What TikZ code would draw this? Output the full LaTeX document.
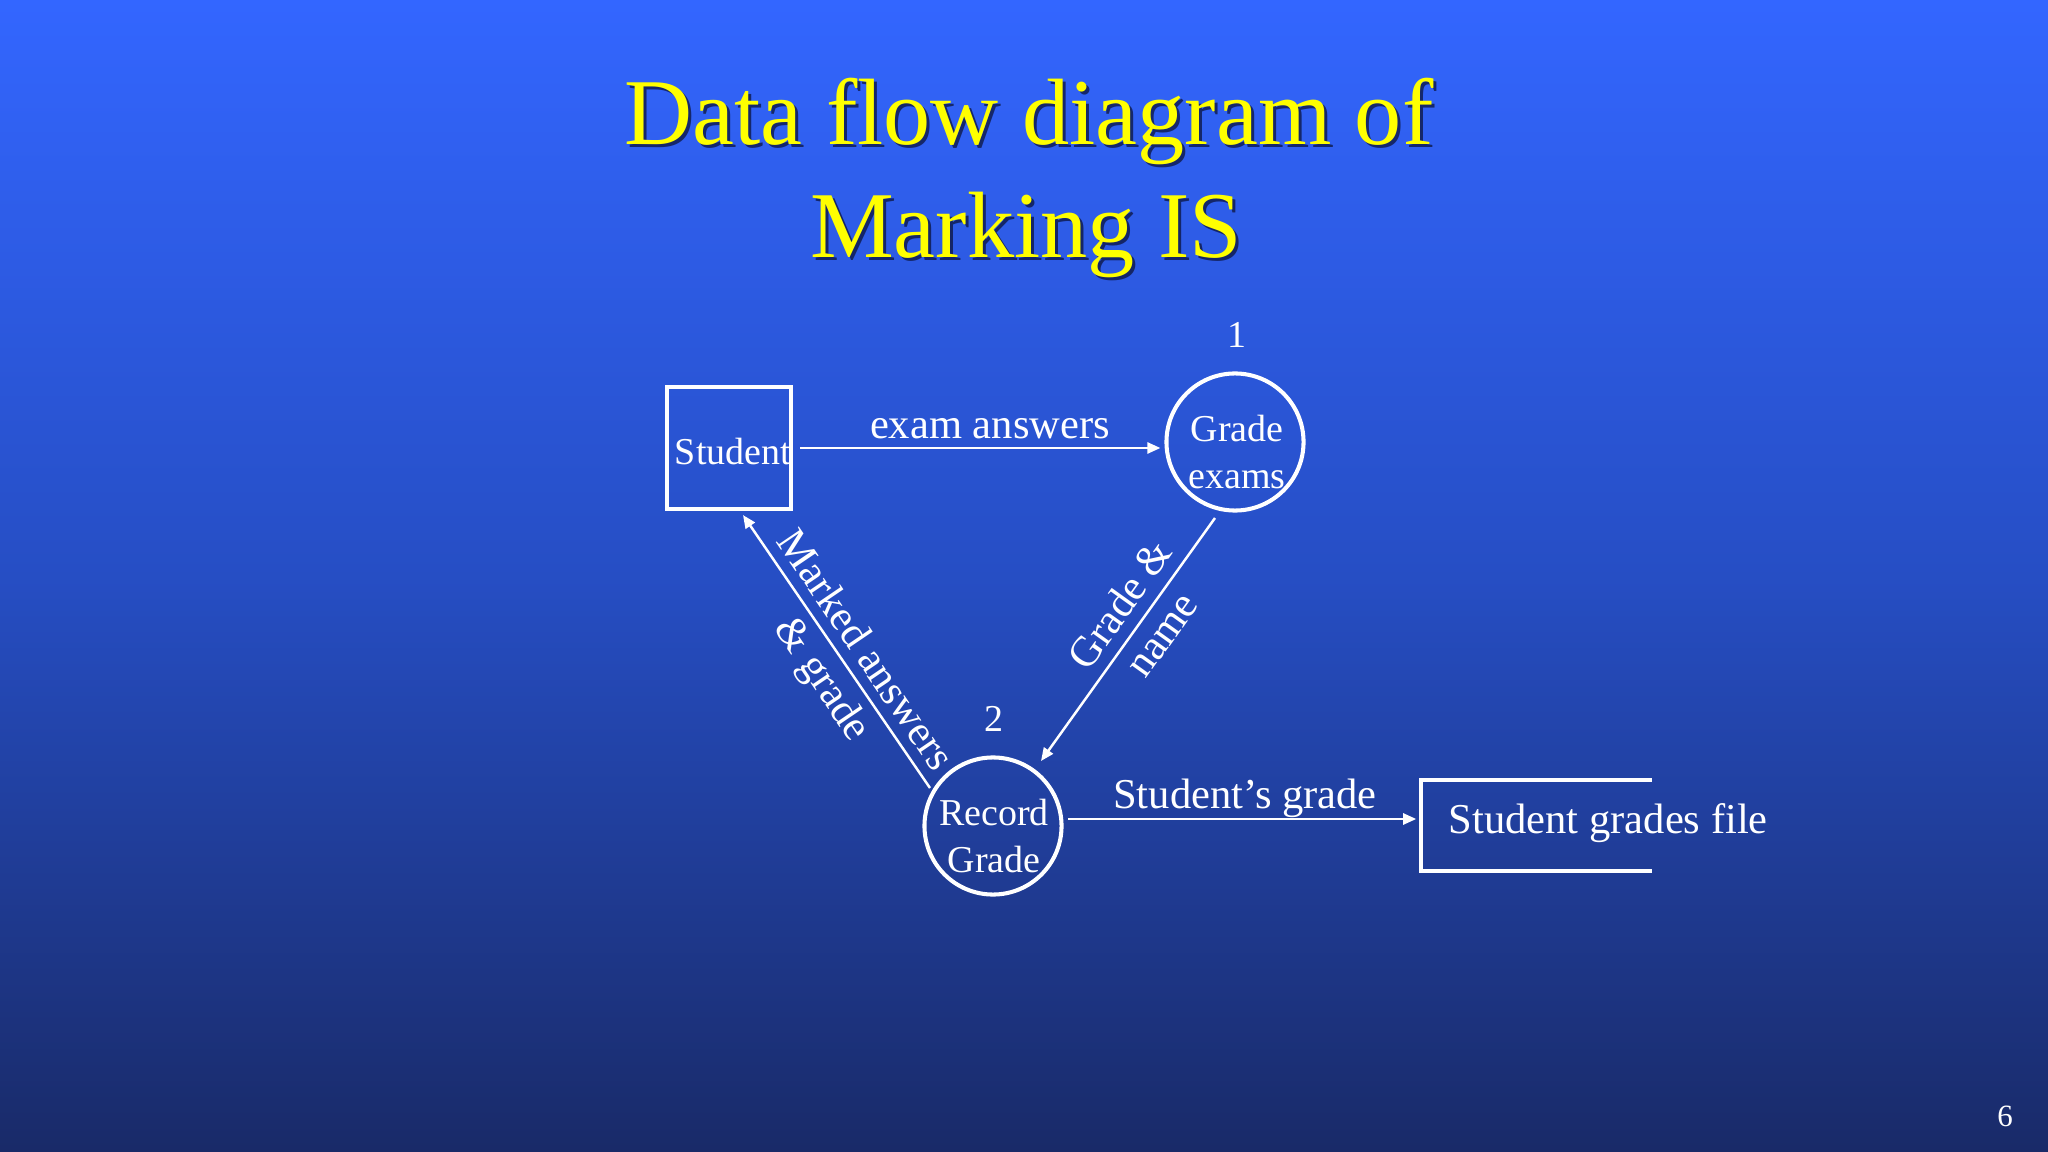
\documentclass[tikz,border=0pt]{standalone}
\usepackage{fontspec}
\setmainfont{Liberation Serif}
\usetikzlibrary{arrows.meta,calc}
\definecolor{bgtop}{RGB}{51,102,255}
\definecolor{bgmid}{RGB}{38,78,196}
\definecolor{bgbot}{RGB}{25,42,104}
\definecolor{ttl}{RGB}{255,255,0}
\definecolor{shd}{RGB}{10,15,50}
\begin{document}
\begin{tikzpicture}[x=0.01cm,y=-0.01cm,
  titlefont/.style={font=\fontsize{26.8pt}{32pt}\selectfont},
  flowfont/.style={font=\fontsize{12.1pt}{14pt}\selectfont},
  boxfont/.style={font=\fontsize{10.8pt}{13.1pt}\selectfont},
  proc/.style={circle,draw=white,line width=1.15pt,minimum size=1.37cm,inner sep=0pt},
  ent/.style={rectangle,draw=white,line width=1.15pt,minimum width=1.24cm,minimum height=1.22cm,inner sep=0pt},
  storebox/.style={rectangle,minimum width=2.29cm,minimum height=0.89cm,inner sep=0pt},
  storeline/.style={draw=white,line width=1.15pt},
  flow/.style={draw=white,line width=0.7pt,-{Triangle[length=0.13cm,width=0.11cm]}},
  txt/.style={text=white,inner sep=0pt},
]
\useasboundingbox (0,0) rectangle (2048,1152);
\shade[top color=bgtop,bottom color=bgbot,middle color=bgmid] (0,0) rectangle (2048,1152);

% title
\node[titlefont,text=shd,opacity=0.7,anchor=base,inner sep=0pt] (t1s) at (1032,148) {Data flow diagram of};
\node[titlefont,text=shd,opacity=0.7,anchor=base,inner sep=0pt] (t2s) at (1029,261) {Marking IS};
\node[titlefont,text=ttl,anchor=base,inner sep=0pt] (t1) at (1029,145) {Data flow diagram of};
\node[titlefont,text=ttl,anchor=base,inner sep=0pt] (t2) at (1026,258) {Marking IS};

% nodes
\node[ent] (st) at (729,448) {};
\node[txt,boxfont,anchor=base] (stt) at (733,465) {Student};

\node[proc] (g1) at (1235,442) {};
\node[txt,boxfont,align=center] (g1t) at (1237,452) {Grade\\exams};
\node[txt,boxfont,anchor=base] (n1) at (1237,348) {1};

\node[proc] (rg) at (993,826) {};
\node[txt,boxfont,align=center] (rgt) at (994,836) {Record\\Grade};
\node[txt,boxfont,anchor=base] (n2) at (994,731) {2};

\node[storebox] (sf) at (1536.5,825.5) {};
\draw[storeline] (sf.north east) -- (sf.north west) -- (sf.south west) -- (sf.south east);
\node[txt,flowfont,anchor=base west] (sft) at (1448,833) {Student grades file};

% flows
\draw[flow] ($(st.east)+(7,0)$) -- ($(g1.west)+(-4,6)$);
\node[txt,flowfont,anchor=base] (l1) at (990,439) {exam answers};

\draw[flow] ($(g1.center)+(-20,76)$) -- ($(rg.center)+(48,-65)$);
\node[txt,flowfont,align=center,rotate=54.4,
  font=\fontsize{12.1pt}{14.5pt}\selectfont] (l2) at (1140,619) {Grade \&\\name};

\draw[flow] ($(rg.center)+(-63,-38)$) -- ($(st.south)+(14,4)$);
\node[txt,flowfont,align=center,rotate=-55.8,
  font=\fontsize{12.1pt}{14.5pt}\selectfont] (l3) at (842,666) {Marked answers\\\& grade};

\draw[flow] ($(rg.center)+(75,-7)$) -- ($(sf.west)+(-5,-6.5)$);
\node[txt,flowfont,anchor=base] (l4) at (1245,808) {Student’s grade};

% page number
\node[txt,font=\fontsize{8.8pt}{10pt}\selectfont,anchor=base] (pg) at (2005,1126) {6};
\end{tikzpicture}
\end{document}
